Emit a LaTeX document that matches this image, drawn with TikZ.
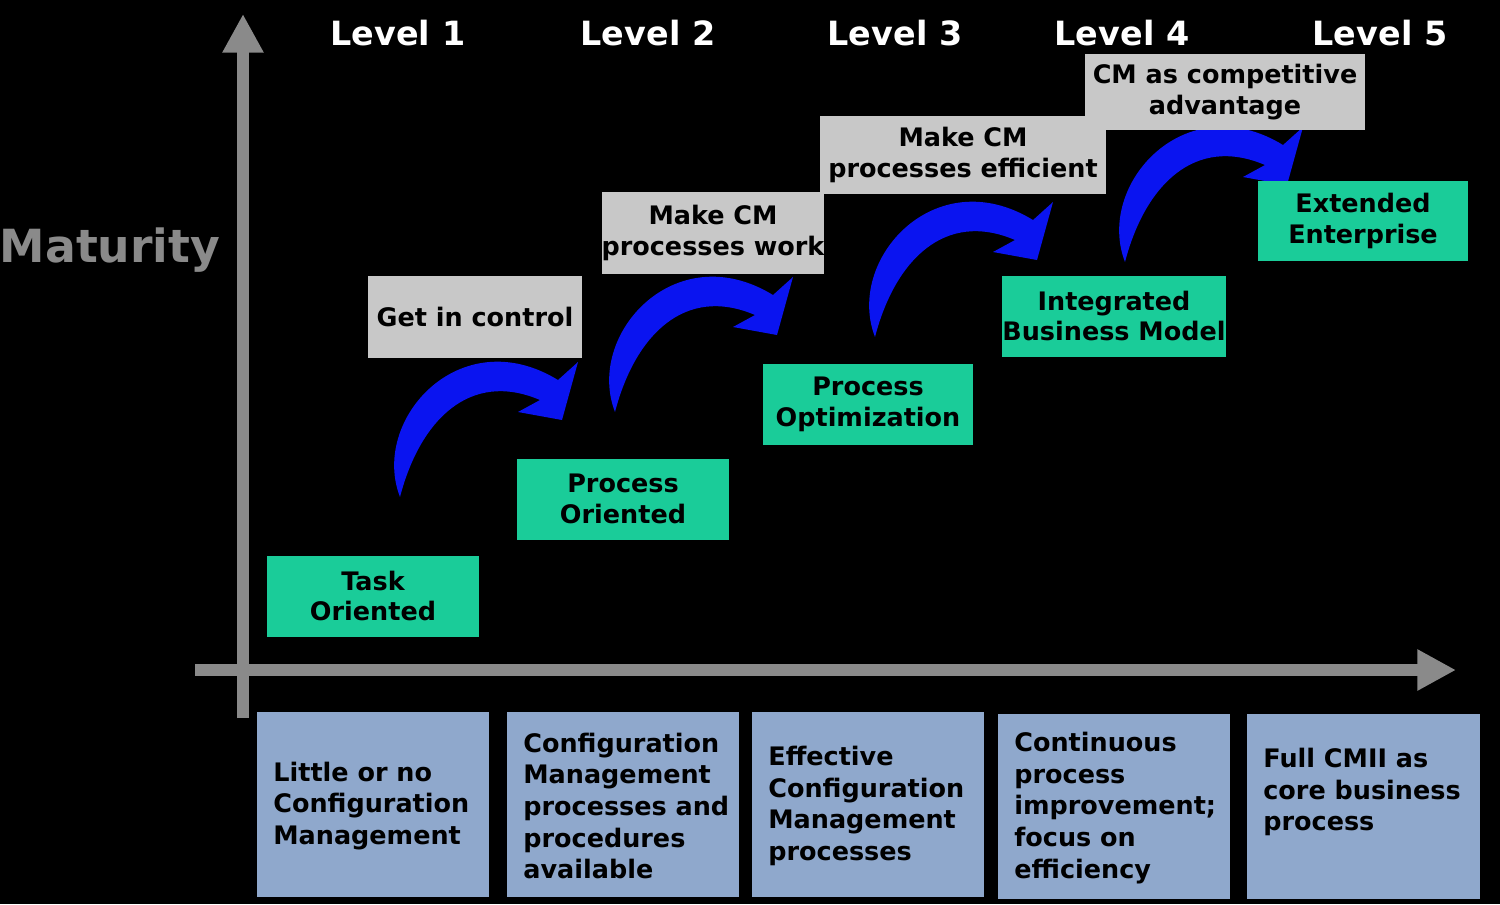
\documentclass[tikz,border=0pt]{standalone}
\usepackage{fontspec}
\setmainfont{DejaVu Sans}
\usetikzlibrary{arrows.meta}
\definecolor{grn}{HTML}{1ACC99}
\definecolor{gry}{HTML}{C8C8C8}
\definecolor{blu}{HTML}{8FA8CC}
\definecolor{axis}{HTML}{8A8A8A}
\definecolor{arr}{HTML}{0A14F0}
\begin{document}
\begin{tikzpicture}[x=0.02cm,y=-0.02cm,
  box/.style={inner sep=0pt,align=center,font=\fontsize{14.5pt}{17.5pt}\selectfont\bfseries},
  lvl/.style={text=white,font=\fontsize{19pt}{22pt}\selectfont\bfseries},
  desc/.style={inner sep=0pt,align=left,font=\fontsize{14.5pt}{18pt}\selectfont\bfseries}]
\fill[black] (0,0) rectangle (1500,904);
\useasboundingbox (0,0) rectangle (1500,904);
% axes
\draw[axis,line width=12*0.569pt,-{Triangle[length=22pt,width=22pt]}] (243,718) -- (243,14);
\draw[axis,line width=12*0.569pt,-{Triangle[length=22pt,width=22pt]}] (195,670) -- (1456,670);
\node[text=axis,font=\fontsize{26pt}{30pt}\selectfont\bfseries] (mat) at (110,250) {Maturity};
% levels
\node[lvl] (l1) at (398,33) {Level 1};
\node[lvl] (l2) at (648,33) {Level 2};
\node[lvl] (l3) at (895,33) {Level 3};
\node[lvl] (l4) at (1122,33) {Level 4};
\node[lvl] (l5) at (1380,33) {Level 5};
% curved arrows
\foreach \dx/\dy in {0/0,215/-85,475/-160,725/-235}{
  \fill[arr,shift={(\dx,\dy)}] (400,497) .. controls (370,420) and (460,320) .. (558,380)
     -- (578,362) -- (562,420) -- (518,412) -- (540,400)
     .. controls (470,370) and (420,420) .. (400,497) -- cycle;
}
% grey boxes
\node[box,fill=gry,minimum width=214*0.569pt,minimum height=82*0.569pt] (g1) at (475,317) {Get in control};
\node[box,fill=gry,minimum width=214*0.569pt,minimum height=82*0.569pt] (g2) at (713,233) {Make CM\\processes work};
\node[box,fill=gry,minimum width=286*0.569pt,minimum height=78*0.569pt] (g3) at (963,155) {Make CM\\processes efficient};
\node[box,fill=gry,minimum width=281*0.569pt,minimum height=77*0.569pt] (g4) at (1225,92) {CM as competitive\\advantage};
% green boxes
\node[box,fill=grn,minimum width=212*0.569pt,minimum height=81*0.569pt] (t1) at (373,596) {Task\\Oriented};
\node[box,fill=grn,minimum width=212*0.569pt,minimum height=81*0.569pt] (t2) at (623,499) {Process\\Oriented};
\node[box,fill=grn,minimum width=211*0.569pt,minimum height=81*0.569pt] (t3) at (868,404) {Process\\Optimization};
\node[box,fill=grn,minimum width=212*0.569pt,minimum height=81*0.569pt] (t4) at (1114,316) {Integrated\\Business Model};
\node[box,fill=grn,minimum width=211*0.569pt,minimum height=81*0.569pt] (t5) at (1363,221) {Extended\\Enterprise};
% blue boxes
\fill[blu] (257,712) rectangle (489,897);
\fill[blu] (507,712) rectangle (739,897);
\fill[blu] (752,712) rectangle (984,897);
\fill[blu] (998,714) rectangle (1230,899);
\fill[blu] (1247,714) rectangle (1480,899);
\node[desc,anchor=west] (d1) at (273,806) {Little or no\\Configuration\\Management};
\node[desc,anchor=west] (d2) at (523,806) {Configuration\\Management\\processes and\\procedures\\available};
\node[desc,anchor=west] (d3) at (768,806) {Effective\\Configuration\\Management\\processes};
\node[desc,anchor=west] (d4) at (1014,808) {Continuous\\process\\improvement;\\focus on\\efficiency};
\node[desc,anchor=west] (d5) at (1263,792) {Full CMII as\\core business\\process};
\end{tikzpicture}
\end{document}
